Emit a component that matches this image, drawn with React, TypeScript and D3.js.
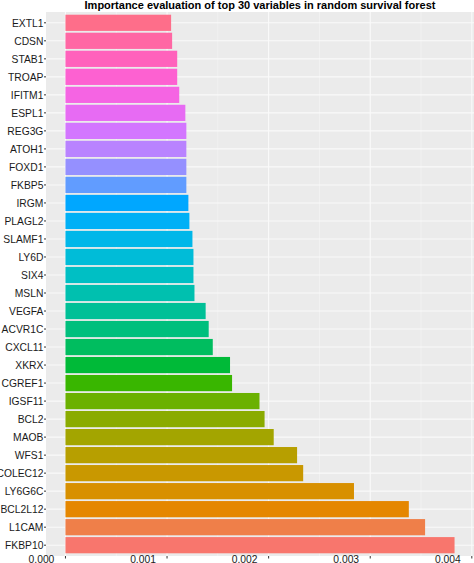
import React from "react";
import * as d3 from "d3";

const genes = ["FKBP10","L1CAM","BCL2L12","LY6G6C","COLEC12","WFS1","MAOB","BCL2","IGSF11","CGREF1","XKRX","CXCL11","ACVR1C","VEGFA","MSLN","SIX4","LY6D","SLAMF1","PLAGL2","IRGM","FKBP5","FOXD1","ATOH1","REG3G","ESPL1","IFITM1","TROAP","STAB1","CDSN","EXTL1"];
const importance = [0.00383,0.00354,0.00338,0.00284,0.00234,0.00228,0.00205,0.00196,0.00191,0.00164,0.00162,0.00145,0.00141,0.00138,0.00127,0.00126,0.00126,0.00125,0.00122,0.00121,0.00119,0.00119,0.00119,0.00119,0.00118,0.00112,0.00110,0.00110,0.00105,0.00104];
const xTicks = [0, 0.001, 0.002, 0.003, 0.004];
const xTickLabels = ["0.000", "0.001", "0.002", "0.003", "0.004"];
const xMinorTicks = [0.0005, 0.0015, 0.0025, 0.0035];
const title = "Importance evaluation of top 30 variables in random survival forest";

// R grDevices::hcl (polar LUV) -> hex
function hclLuv(h: number, c: number, l: number): string {
  const Xn = 95.047, Yn = 100, Zn = 108.883;
  const den = Xn + 15 * Yn + 3 * Zn;
  const un = (4 * Xn) / den, vn = (9 * Yn) / den;
  const hr = (h * Math.PI) / 180;
  const u = c * Math.cos(hr), v = c * Math.sin(hr);
  const Y = l > 8 ? Yn * Math.pow((l + 16) / 116, 3) : (Yn * l) / 903.3;
  const up = u / (13 * l) + un, vp = v / (13 * l) + vn;
  const X = (9 * Y * up) / (4 * vp);
  const Z = (Y * (12 - 3 * up - 20 * vp)) / (4 * vp);
  const x = X / 100, y = Y / 100, z = Z / 100;
  const lin = [
    3.240479 * x - 1.53715 * y - 0.498535 * z,
    -0.969256 * x + 1.875992 * y + 0.041556 * z,
    0.055648 * x - 0.204043 * y + 1.057311 * z,
  ];
  const g = lin.map((t) => {
    const s = t <= 0.0031308 ? 12.92 * t : 1.055 * Math.pow(t, 1 / 2.4) - 0.055;
    return Math.round(Math.max(0, Math.min(1, s)) * 255);
  });
  return d3.rgb(g[0], g[1], g[2]).formatHex();
}

const W = 474, H = 563;
const panel = { left: 46, right: 474, top: 12, bottom: 556 };

export default function App() {
  const maxV = d3.max(importance) as number;
  const x = d3
    .scaleLinear()
    .domain([-0.05 * maxV, maxV * 1.05])
    .range([panel.left, panel.right]);
  const topToBottom = genes.slice().reverse();
  const y = d3
    .scaleBand<string>()
    .domain(topToBottom)
    .range([panel.top, panel.bottom])
    .paddingInner(0.1)
    .paddingOuter(0.15);
  const n = genes.length;
  const colors = genes.map((_, i) => hclLuv(15 + (360 * i) / n, 100, 65));
  const font = "'Liberation Sans', Arial, Helvetica, sans-serif";

  return (
    <svg
      width={W}
      height={H}
      style={{ position: "absolute", left: 0, top: 0, background: "#fff" }}
      fontFamily={font}
    >
      <rect
        x={panel.left}
        y={panel.top}
        width={panel.right - panel.left}
        height={panel.bottom - panel.top}
        fill="#EBEBEB"
      />
      {xMinorTicks.map((t) => (
        <line key={"mn" + t} x1={x(t)} x2={x(t)} y1={panel.top} y2={panel.bottom} stroke="#F7F7F7" strokeWidth={0.55} />
      ))}
      {xTicks.map((t) => (
        <line key={"mj" + t} x1={x(t)} x2={x(t)} y1={panel.top} y2={panel.bottom} stroke="#FAFAFA" strokeWidth={1.1} />
      ))}
      {topToBottom.map((gname) => {
        const cy = (y(gname) as number) + y.bandwidth() / 2;
        return <line key={"hg" + gname} x1={panel.left} x2={panel.right} y1={cy} y2={cy} stroke="#FAFAFA" strokeWidth={1.1} />;
      })}
      {genes.map((gname, i) => (
        <rect
          key={gname}
          x={x(0)}
          y={y(gname)}
          width={x(importance[i]) - x(0)}
          height={y.bandwidth()}
          fill={colors[i]}
        />
      ))}
      {topToBottom.map((gname) => {
        const cy = (y(gname) as number) + y.bandwidth() / 2;
        return (
          <g key={"yl" + gname}>
            <line x1={panel.left - 2} x2={panel.left} y1={cy} y2={cy} stroke="#333" strokeWidth={1} />
            <text x={panel.left - 2.6} y={cy} dy="0.36em" textAnchor="end" fontSize={10.3} fill="#1a1a1a">
              {gname}
            </text>
          </g>
        );
      })}
      {xTicks.map((t, i) => (
        <g key={"xl" + t}>
          <line x1={x(t)} x2={x(t)} y1={panel.bottom} y2={panel.bottom + 2.5} stroke="#333" strokeWidth={1} />
          <text x={x(t) - 24} y={562.8} textAnchor="middle" fontSize={10.3} fill="#1a1a1a">
            {xTickLabels[i]}
          </text>
        </g>
      ))}
      <text x={(panel.left + panel.right) / 2} y={8.5} textAnchor="middle" fontSize={11} fontWeight="bold" fill="#000">
        {title}
      </text>
    </svg>
  );
}
